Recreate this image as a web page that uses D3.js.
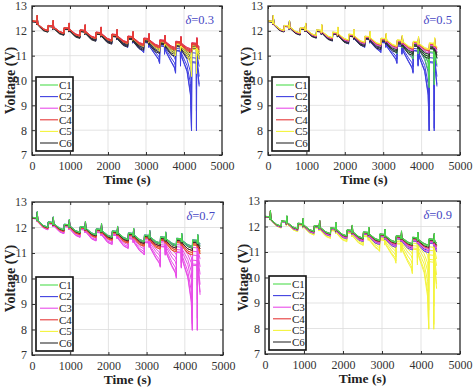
<!DOCTYPE html>
<html><head><meta charset="utf-8">
<script src="https://cdn.jsdelivr.net/npm/d3@7"></script>
<style>body{margin:0;background:#fff} svg text{font-family:"Liberation Serif","DejaVu Serif","Noto Serif",Tinos,"Times New Roman",Times,serif !important;}</style></head>
<body>
<script>
// ---------------- DATA ----------------
const cells = ["C1","C2","C3","C4","C5","C6"];
const cellColors = ["#4fdc4f","#4040e0","#e84ce8","#e63a3a","#f4f43c","#2e2e2e"];
const deltas = ["0.3","0.5","0.7","0.9"];
const xTicks = [0,1000,2000,3000,4000,5000];
const yTicks = [7,8,9,10,11,12,13];

// HPPC-like cycles (one per 420 s), nominal (strongest-cell) voltages
const cycleStart  = [0,420,840,1260,1680,2100,2520,2940,3360,3780,4200];
const restV       = [12.40,12.22,12.13,12.04,11.95,11.87,11.79,11.71,11.64,11.58,11.52];
const pulseV      = [12.62,12.42,12.32,12.25,12.16,12.06,11.98,11.90,11.83,11.78,11.73];
const dischStartV = [12.26,12.14,12.05,11.96,11.87,11.78,11.70,11.62,11.55,11.48,11.42];
const dischMidV   = [12.08,11.98,11.88,11.79,11.70,11.61,11.53,11.46,11.39,11.33,11.38];
const dischEndV   = [12.02,11.92,11.82,11.73,11.64,11.55,11.47,11.40,11.33,11.27,11.36];

// spread of ordinary cells below the nominal curve (fraction of final spread, per cycle)
const normGrowth  = [0.15,0.2,0.25,0.3,0.35,0.4,0.5,0.6,0.7,0.85,1.0];

// deviation (V) of the weakest trace of the weak cell, per cycle
const weakRest  = [0,0.01,0.02,0.03,0.04,0.05,0.08,0.12,0.18,0.3,0.7];
const weakDip   = [0,0.02,0.03,0.04,0.05,0.08,0.12,0.2,0.4,0.8,3.4];
const weakStart = [0,0.02,0.03,0.04,0.06,0.08,0.12,0.2,0.3,0.45,1.0];
const weakMid   = [0.01,0.03,0.04,0.06,0.08,0.1,0.15,0.3,0.5,0.8,1.2];
const weakLate  = [0.02,0.04,0.05,0.07,0.09,0.12,0.2,0.45,0.7,1.7,1.3];
const weakEnd   = [0.02,0.04,0.06,0.08,0.1,0.14,0.25,0.6,0.9,3.3,1.4];
const weakFloor = 7.97;   // lowest voltage reached by any weak trace

// per panel: traces of each cell (scale of deviation), which cells are "weak", draw order,
// and extra steady spread (V) of the weak cell
const traces_d03 = [[0.05,0.12],[1,0.95,0.75,0.5,0.3,0.18],[0,0.08],[0,0.05,0.1,0.15],[0.32,0.22,0.14],[0.2,0.3,0.4,0.5]];
const weak_d03   = [1,4];
const order_d03  = [0,2,1,5,4,3];
const boost_d03  = 0.2;

const traces_d05 = [[0.45,0.3,0.2,0.12],[1,0.95,0.75,0.5,0.3],[0.12,0.2],[0.05,0.1],[0,0.04],[0.25,0.35,0.45]];
const weak_d05   = [0,1];
const order_d05  = [1,0,5,2,3,4];
const boost_d05  = 0.2;

const traces_d07 = [[0,0.08],[0,0.05],[1,0.95,0.8,0.6,0.45,0.3,0.2],[0.2,0.3,0.4],[0.3,0.4],[0.1,0.2]];
const weak_d07   = [2];
const order_d07  = [2,4,3,5,1,0];
const boost_d07  = 0.6;

const traces_d09 = [[0,0.05],[0.25,0.35],[0.2,0.3],[0.1,0.15],[1,0.9,0.7,0.5,0.35,0.2],[0,0.1]];
const weak_d09   = [4];
const order_d09  = [4,1,2,3,5,0];
const boost_d09  = 0.4;

const panelTraces = [traces_d03,traces_d05,traces_d07,traces_d09];
const panelWeak   = [weak_d03,weak_d05,weak_d07,weak_d09];
const panelOrder  = [order_d03,order_d05,order_d07,order_d09];
const panelBoost  = [boost_d03,boost_d05,boost_d07,boost_d09];

// ---------------- LAYOUT ----------------
const W=474,H=390;
const boxes = [
  {l:32,r:222,t:6,b:155},
  {l:268,r:460,t:6,b:155},
  {l:32,r:223,t:202,b:355},
  {l:265,r:460,t:201,b:354}
];
const FONT = '"Liberation Serif","DejaVu Serif","Noto Serif",Tinos,"Times New Roman",Times,serif';

const svg = d3.select("body").append("svg").attr("width",W).attr("height",H)
  .attr("font-family",FONT);

function tracePoints(kind, s, boost){
  const pts=[];
  const n=cycleStart.length;
  for(let k=0;k<n;k++){
    const t0=cycleStart[k];
    let dRest,dDip,dStart,dMid,dLate,dEnd;
    if(kind==="w"){
      const b=s*boost*normGrowth[k];
      dRest=s*weakRest[k]+0.5*b; dDip=s*weakDip[k]+0.5*b; dStart=s*weakStart[k]+0.7*b;
      dMid=s*weakMid[k]+b; dLate=s*weakLate[k]+b; dEnd=s*weakEnd[k]+b;
    } else {
      const d=s*normGrowth[k];
      dRest=0.5*d; dDip=0.5*d; dStart=0.7*d; dMid=d; dLate=d; dEnd=d;
    }
    const R=restV[k]-dRest;
    const lim=v=>Math.max(v,weakFloor);
    pts.push([t0+ (k===0?0:4), R]);
    pts.push([t0+125, R-0.02]);
    pts.push([t0+128, lim(restV[k]-0.12-dDip)]);
    pts.push([t0+133, R]);
    pts.push([t0+140, pulseV[k]-dRest]);
    pts.push([t0+148, R-0.05]);
    pts.push([t0+165, lim(dischStartV[k]-dStart)]);
    if(k<n-1){
      pts.push([t0+300, lim(dischMidV[k]-dMid)]);
      pts.push([t0+390, lim(dischEndV[k]+0.01-dLate)]);
      pts.push([t0+418, lim(dischEndV[k]-dEnd)]);
    } else {
      pts.push([4400, lim(dischEndV[k]-dEnd)]);
    }
  }
  return pts;
}

boxes.forEach((bx,pi)=>{
  const x=d3.scaleLinear().domain([0,5000]).range([bx.l,bx.r]);
  const y=d3.scaleLinear().domain([7,13]).range([bx.b,bx.t]);
  const g=svg.append("g");
  // grid
  g.selectAll(".gx").data(xTicks.slice(1,-1)).join("line")
    .attr("x1",d=>x(d)).attr("x2",d=>x(d)).attr("y1",bx.t).attr("y2",bx.b)
    .attr("stroke","#dcdcdc").attr("stroke-width",0.8);
  g.selectAll(".gy").data(yTicks.slice(1,-1)).join("line")
    .attr("y1",d=>y(d)).attr("y2",d=>y(d)).attr("x1",bx.l).attr("x2",bx.r)
    .attr("stroke","#dcdcdc").attr("stroke-width",0.8);

  // clip
  const cid="clip"+pi;
  svg.append("clipPath").attr("id",cid).append("rect")
    .attr("x",bx.l).attr("y",bx.t).attr("width",bx.r-bx.l).attr("height",bx.b-bx.t);
  const lg=g.append("g").attr("clip-path",`url(#${cid})`);
  const line=d3.line().x(d=>x(d[0])).y(d=>y(d[1]));
  panelOrder[pi].forEach(ci=>{
    const kind=panelWeak[pi].includes(ci)?"w":"n";
    panelTraces[pi][ci].forEach(s=>{
      lg.append("path").attr("d",line(tracePoints(kind,s,panelBoost[pi])))
        .attr("fill","none").attr("stroke",cellColors[ci]).attr("stroke-width",1);
    });
  });

  // axes
  const fmt=d3.format("d");
  const ax=g.append("g").attr("transform",`translate(0,${bx.b})`)
    .call(d3.axisBottom(x).tickValues(xTicks).tickSize(-3).tickPadding(6).tickFormat(fmt));
  const ay=g.append("g").attr("transform",`translate(${bx.l},0)`)
    .call(d3.axisLeft(y).tickValues(yTicks).tickSize(-3).tickPadding(5).tickFormat(fmt));
  const at=g.append("g").attr("transform",`translate(0,${bx.t})`)
    .call(d3.axisTop(x).tickValues(xTicks).tickSize(-3).tickFormat(""));
  const ar=g.append("g").attr("transform",`translate(${bx.r},0)`)
    .call(d3.axisRight(y).tickValues(yTicks).tickSize(-3).tickFormat(""));
  [ax,ay,at,ar].forEach(a=>{
    a.attr("font-family",FONT).attr("font-size",12);
    a.select(".domain").remove();
    a.selectAll("line").attr("stroke","#333");
    a.selectAll("text").attr("fill","#333");
  });
  g.append("rect").attr("x",bx.l).attr("y",bx.t).attr("width",bx.r-bx.l).attr("height",bx.b-bx.t)
    .attr("fill","none").attr("stroke","#2a2a2a").attr("stroke-width",1.3);

  // labels
  g.append("text").attr("x",(bx.l+bx.r)/2).attr("y",bx.b+29).attr("text-anchor","middle")
    .attr("font-size",13.5).attr("font-weight","bold").attr("fill","#222").text("Time (s)");
  g.append("text").attr("transform",`translate(${bx.l-17},${(bx.t+bx.b)/2}) rotate(-90)`)
    .attr("text-anchor","middle").attr("font-size",14).attr("font-weight","bold")
    .attr("fill","#222").text("Voltage (V)");

  // delta label
  const dt=g.append("text").attr("x",bx.r-8).attr("y",bx.t+18).attr("text-anchor","end")
    .attr("font-size",12.5).attr("fill","#4848c4");
  dt.append("tspan").attr("font-style","italic").text("δ");
  dt.append("tspan").text("="+deltas[pi]);

  // legend
  const lx=bx.l+4, ly=bx.b-78;
  const leg=g.append("g");
  leg.append("rect").attr("x",lx).attr("y",ly).attr("width",37).attr("height",74)
    .attr("fill","#fff").attr("stroke","#111").attr("stroke-width",1.6);
  cells.forEach((c,i)=>{
    const yy=ly+8+i*11.6;
    leg.append("line").attr("x1",lx+4).attr("x2",lx+22).attr("y1",yy).attr("y2",yy)
      .attr("stroke",cellColors[i]).attr("stroke-width",1.1);
    leg.append("text").attr("x",lx+23).attr("y",yy+3.8).attr("font-size",11)
      .attr("fill","#222").text(c);
  });
});
</script>
</body></html>
